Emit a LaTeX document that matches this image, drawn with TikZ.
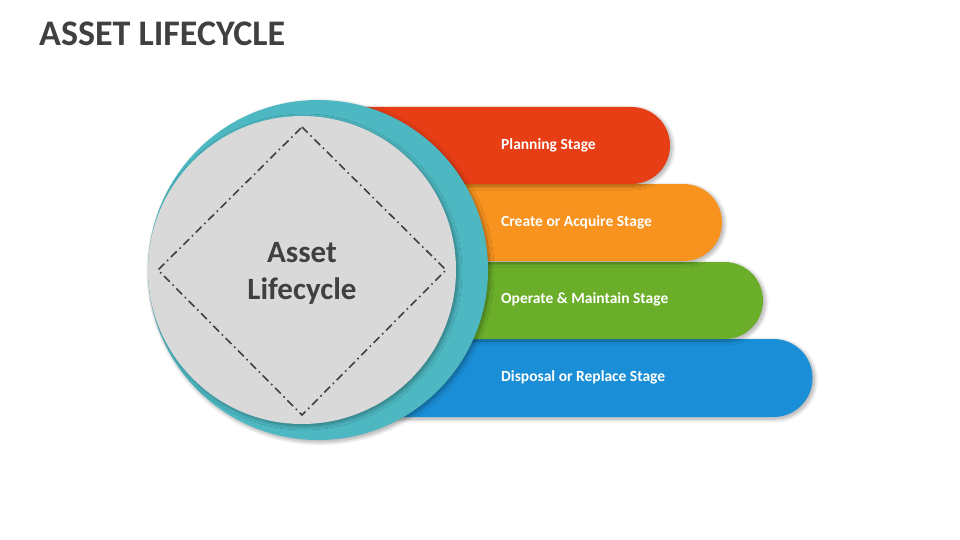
\documentclass[tikz,border=0pt]{standalone}
\usepackage{fontspec}
\setmainfont{Carlito}
\usetikzlibrary{calc, shadows.blur}

\definecolor{titelgrau}{HTML}{404040}
\definecolor{kreisgrau}{HTML}{D9D9D9}
\definecolor{tuerkis}{HTML}{4DB8C2}
\definecolor{balkenrot}{HTML}{E83E16}
\definecolor{balkenorange}{HTML}{F7931E}
\definecolor{balkengruen}{HTML}{6AAE2A}
\definecolor{balkenblau}{HTML}{1A8ED6}

\tikzset{
    schatten/.style={blur shadow={shadow xshift=2pt, shadow yshift=-2pt, shadow blur radius=4pt, shadow blur steps=10, shadow opacity=35}},
    stufe/.style={anchor=west, text=white, font=\bfseries\fontsize{15.5}{18}\selectfont, inner sep=0pt}
}

\begin{document}
\begin{tikzpicture}[x=1pt, y=-1pt]

    \useasboundingbox (0,0) rectangle (960,540);

    % 1. Mittelpunkte der Kreise
    \coordinate (T) at (318,270);
    \coordinate (M) at (302,270);

    % 2. Balken (von unten nach oben, damit der obere den unteren ueberdeckt)
    \fill[balkenblau, schatten] (340,339) -- (773.5,339) arc (90:-90:39pt) -- (340,417) -- cycle;
    \fill[balkengruen, schatten] (340,262) -- (724.5,262) arc (90:-90:38.5pt) -- (340,339) -- cycle;
    \fill[balkenorange, schatten] (340,184) -- (683.5,184) arc (90:-90:38.5pt) -- (340,261) -- cycle;
    \fill[balkenrot, schatten] (340,107) -- (631.5,107) arc (90:-90:38.5pt) -- (340,184) -- cycle;

    % Beschriftung der Balken
    \node[stufe] (planung) at (501,145) {Planning Stage};
    \node[stufe] (erwerb) at (501,222) {Create or Acquire Stage};
    \node[stufe] (betrieb) at (501,299) {Operate \& Maintain Stage};
    \node[stufe] (entsorgung) at (501,377) {Disposal or Replace Stage};

    % 3. Kreise
    \fill[tuerkis, schatten] (T) circle (170pt);
    \fill[kreisgrau, schatten] (M) circle (154pt);

    % 4. Raute (strichpunktiert)
    \draw[titelgrau, line width=1.6pt, dash pattern=on 8pt off 4pt on 1.5pt off 4pt]
        (302,127) -- (446,270) -- (302,415) -- (158,270) -- cycle;

    % 5. Texte
    \node[text=titelgrau, font=\bfseries\fontsize{31}{37}\selectfont, align=center] (mitte) at (302,273) {Asset\\Lifecycle};
    \node[text=titelgrau, font=\bfseries\fontsize{36}{42}\selectfont, anchor=base west, inner sep=0pt] (titel) at (39,46) {ASSET LIFECYCLE};

\end{tikzpicture}
\end{document}
